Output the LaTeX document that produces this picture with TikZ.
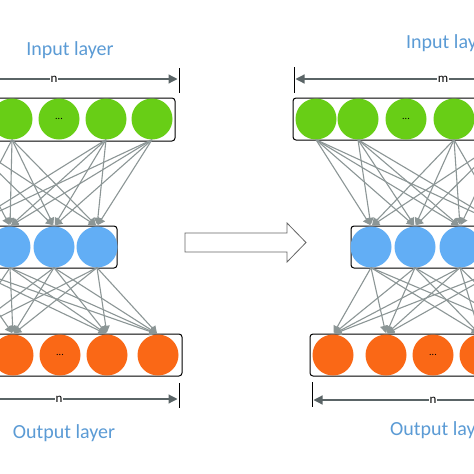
\documentclass[tikz,border=0pt]{standalone}
\usepackage{fontspec}
\setmainfont{Carlito}
\usetikzlibrary{arrows.meta}
\definecolor{ngreen}{RGB}{104,206,22}
\definecolor{nblue}{RGB}{98,174,245}
\definecolor{norange}{RGB}{250,104,22}
\definecolor{ttext}{RGB}{91,155,213}
\definecolor{lgray}{RGB}{140,150,150}
\definecolor{dgray}{RGB}{90,100,102}
\tikzset{
 neuron/.style={circle, minimum size=41pt, inner sep=0pt, draw=none},
 gn/.style={neuron, fill=ngreen},
 bn/.style={neuron, fill=nblue},
 orn/.style={neuron, fill=norange},
 layerbox/.style={draw=black, line width=1pt, rounded corners=3pt, fill=white},
 link/.style={draw=lgray, line width=1.1pt, shorten >=1.5pt, -{Triangle[length=7pt,width=8pt]}},
 dimline/.style={draw=dgray, line width=1.2pt, shorten >=1.5pt, -{Triangle[length=9pt,width=9pt]}},
 dimtick/.style={draw=black, line width=1pt},
 lbl/.style={text=ttext, font=\fontsize{20}{22}\selectfont, inner sep=0pt},
 dimlbl/.style={fill=white, inner sep=1pt, font=\fontsize{13}{14}\selectfont},
 dotlbl/.style={font=\fontsize{10}{10}\selectfont},
 bigarrow/.style={draw=gray!80!black, line width=0.8pt, fill=white},
}
\begin{document}
\begin{tikzpicture}[x=1pt,y=-1pt]
\useasboundingbox (0,0) rectangle (474,474);
\clip (0,0) rectangle (474,474);
\fill[white] (0,0) rectangle (474,474);

% ---------- boxes ----------
\draw[layerbox] (-80,98) rectangle (175,141);
\draw[layerbox] (-60,226) rectangle (117,268);
\draw[layerbox] (-80,334) rectangle (182,376);
\draw[layerbox] (293,98) rectangle (560,140);
\draw[layerbox] (351,226) rectangle (560,268);
\draw[layerbox] (310,334) rectangle (580,376);

% ---------- left neurons ----------
\foreach \i/\x in {1/-35,2/12,3/59,4/106,5/152}
  \node[gn] (li\i) at (\x,119) {};
\foreach \i/\x in {1/-33,2/10,3/54,4/97}
  \node[bn] (lh\i) at (\x,247) {};
\foreach \i/\x in {1/-35,2/13,3/60,4/107,5/158}
  \node[orn] (lo\i) at (\x,355) {};
\node[dotlbl] (lidots) at (li3) {...};
\node[dotlbl] (lodots) at (lo3) {...};

% ---------- right neurons ----------
\foreach \i/\x in {1/316,2/358,3/406,4/454,5/502}
  \node[gn] (ri\i) at (\x,119) {};
\foreach \i/\x in {1/371,2/415,3/460,4/504}
  \node[bn] (rh\i) at (\x,247) {};
\foreach \i/\x in {1/333,2/386,3/433,4/480,5/528}
  \node[orn] (ro\i) at (\x,355) {};
\node[dotlbl] (ridots) at (ri3) {...};
\node[dotlbl] (rodots) at (ro3) {...};

% ---------- links ----------
\foreach \a in {1,2,4,5}
  \foreach \b in {1,2,3,4} {
    \draw[link] (li\a.south) -- (lh\b.north);
    \draw[link] (lh\b.south) -- (lo\a.north);
    \draw[link] (ri\a.south) -- (rh\b.north);
    \draw[link] (rh\b.south) -- (ro\a.north);
  }

% ---------- dimension lines ----------
\coordinate (ltA) at (-70,79);
\coordinate (ltB) at (179,79);
\draw[dimtick] (179,68) -- (179,93);
\draw[dimline] (ltA) -- (ltB);
\node[dimlbl] (ltn) at (54,79) {n};

\coordinate (lbA) at (-60,399);
\coordinate (lbB) at (179,399);
\draw[dimtick] (179,383) -- (179,408);
\draw[dimline] (lbA) -- (lbB);
\node[dimlbl] (lbn) at (59,399) {n};

\coordinate (rtA) at (600,79);
\coordinate (rtB) at (294,79);
\draw[dimtick] (294,67) -- (294,93);
\draw[dimline] (rtA) -- (rtB);
\node[dimlbl] (rtm) at (443,79) {m};

\coordinate (rbA) at (600,400);
\coordinate (rbB) at (312,400);
\draw[dimtick] (312,382) -- (312,407);
\draw[dimline] (rbA) -- (rbB);
\node[dimlbl] (rbn) at (433,400) {n};

% ---------- labels ----------
\node[lbl] (tin) at (70,50) {Input layer};
\node[lbl] (tout) at (64,433) {Output layer};
\node[lbl, anchor=west] (rin) at (406,43) {Input layer};
\node[lbl, anchor=west] (rout) at (390,430) {Output layer};

% ---------- big arrow ----------
\draw[bigarrow] (185,233) -- (287,233) -- (287,223) -- (306,242.5) -- (287,262) -- (287,252) -- (185,252) -- cycle;
\end{tikzpicture}
\end{document}
